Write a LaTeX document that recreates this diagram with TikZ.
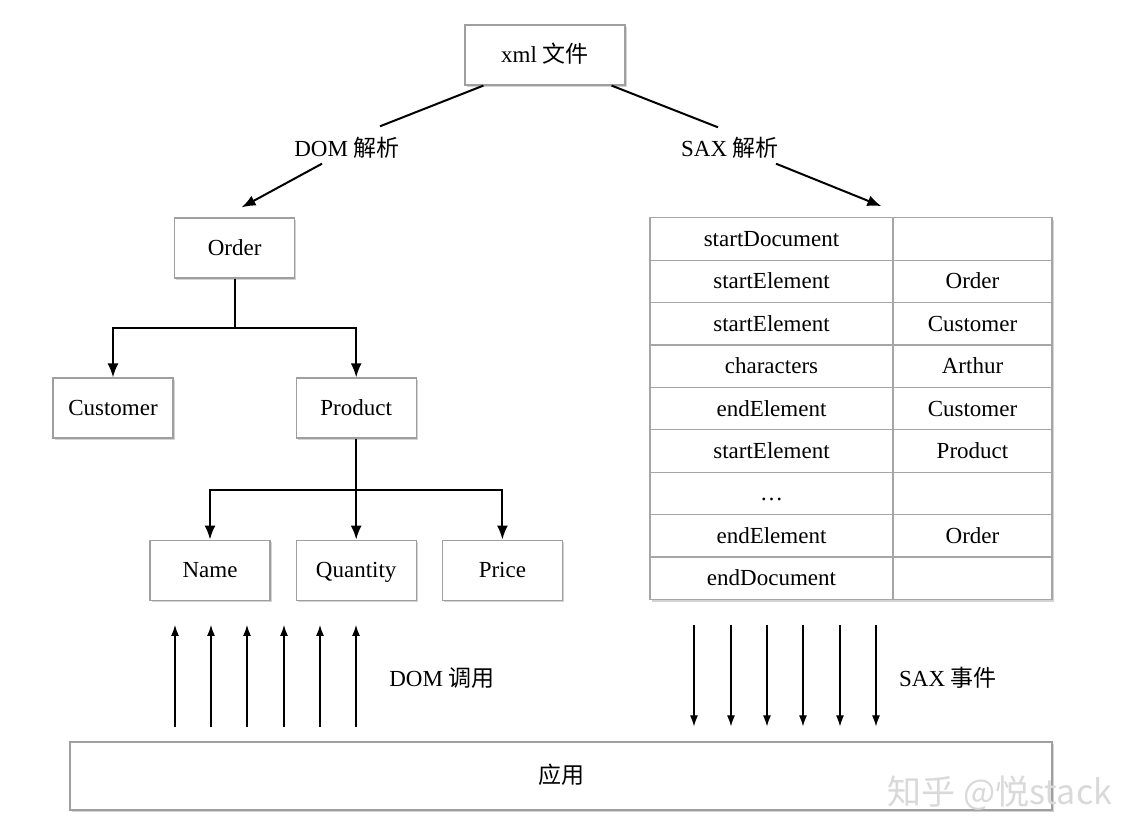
\documentclass[tikz,border=0pt]{standalone}
\usepackage{fontspec}
\setmainfont{Liberation Serif}
\newfontfamily\cjk{Noto Sans CJK SC}
\usetikzlibrary{positioning,calc,arrows.meta,shadows}

\begin{document}
\begin{tikzpicture}[x=0.5pt, y=-0.5pt, node distance=12.5pt,
  font=\fontsize{11.5}{13}\selectfont,
  box/.style={draw=gray!75, line width=0.6pt, fill=white, minimum width=60pt, minimum height=30pt,
    text height=9pt, text depth=1.5pt,
    drop shadow={shadow xshift=0.9pt, shadow yshift=-0.9pt, opacity=0.35}},
  cell/.style={draw=gray!70, line width=0.6pt, fill=white, minimum height=21.2pt, inner sep=0pt,
    text height=9pt, text depth=1.5pt},
  tip/.style={-{Latex[length=7pt,width=5.5pt]}, line width=1pt},
  thin tip/.style={-{Latex[length=5.5pt,width=4pt]}, line width=0.6pt}]
    \useasboundingbox (0,0) rectangle (1142,838);
    \node[box, minimum width=80pt] (xml) at (545,55) {xml {\cjk 文件}};
    \node (dom) at (347,148) {DOM {\cjk 解析}};
    \node (sax) at (730,148) {SAX {\cjk 解析}};
    \node[box] (customer) at (113,408) {Customer};
    \node[box, right=61pt of customer] (product) {Product};
    \node[box] (order) at ($(customer)!0.5!(product)+(0,-160)$) {Order};
    \node[box, below=50.5pt of product] (quantity) {Quantity};
    \node[box, left=of quantity] (name) {Name};
    \node[box, right=of quantity] (price) {Price};
    \node (domcall) at (442,678) {DOM {\cjk 调用}};
    \node (saxevent) at (948,678) {SAX {\cjk 事件}};
    \node[box, minimum width=491pt, minimum height=34pt] (app) at (561,776) {\cjk 应用};
    %
    % SAX event table
    \path[fill=white, drop shadow={shadow xshift=0.9pt, shadow yshift=-0.9pt, opacity=0.35}]
      (650,218) rectangle (1052,600);
    \foreach \ev/\arg [count=\i] in {startDocument/{}, startElement/Order, startElement/Customer,
        characters/Arthur, endElement/Customer, startElement/Product, \ldots/{}, endElement/Order, endDocument/{}}
    {
      \node[cell, minimum width=121.5pt] (ev\i) at (771.5,{239+42.4*(\i-1)}) {\ev};
      \node[cell, minimum width=79.5pt] (arg\i) at (972.5,{239+42.4*(\i-1)}) {\arg};
    }
    %
    \draw[line width=1pt] ([xshift=9.5pt]xml.south west) -- ([xshift=16.5pt,yshift=2pt]dom.north);
    \draw[tip] ([xshift=-12.5pt,yshift=1pt]dom.south) -- ([xshift=3.5pt,yshift=5pt]order.north);
    \draw[line width=1pt] ([xshift=-7pt]xml.south east) -- ([xshift=-6pt,yshift=1.5pt]sax.north);
    \draw[tip] ([xshift=23pt,yshift=1pt]sax.south) -- ([xshift=-5.5pt,yshift=5.5pt]arg1.north west);
    %
    \draw[tip] (order.south) -- ++(0,49) -| (customer.north);
    \draw[tip] (order.south) -- ++(0,49) -| (product.north);
    \draw[tip] (product.south) -- (quantity.north);
    \draw[tip] (product.south) -- ++(0,51) -| (name.north);
    \draw[tip] (product.south) -- ++(0,51) -| (price.north);
    %
    \foreach \x [count=\i] in {175,211,247,284,320,356}
    {
      \coordinate (up\i) at (\x,625);
      \draw[thin tip] ([yshift=7pt]up\i |- app.north) -- (up\i);
    }
    \foreach \x [count=\i] in {694,731,767,803,840,876}
    {
      \coordinate (down\i) at (\x,625);
      \draw[thin tip] (down\i) -- ([yshift=7.5pt]down\i |- app.north);
    }
    %
    \node[text=gray!30, font=\cjk\fontsize{17}{19}\selectfont] (mark) at (1000,793) {知乎 @悦stack};
\end{tikzpicture}
\end{document}
